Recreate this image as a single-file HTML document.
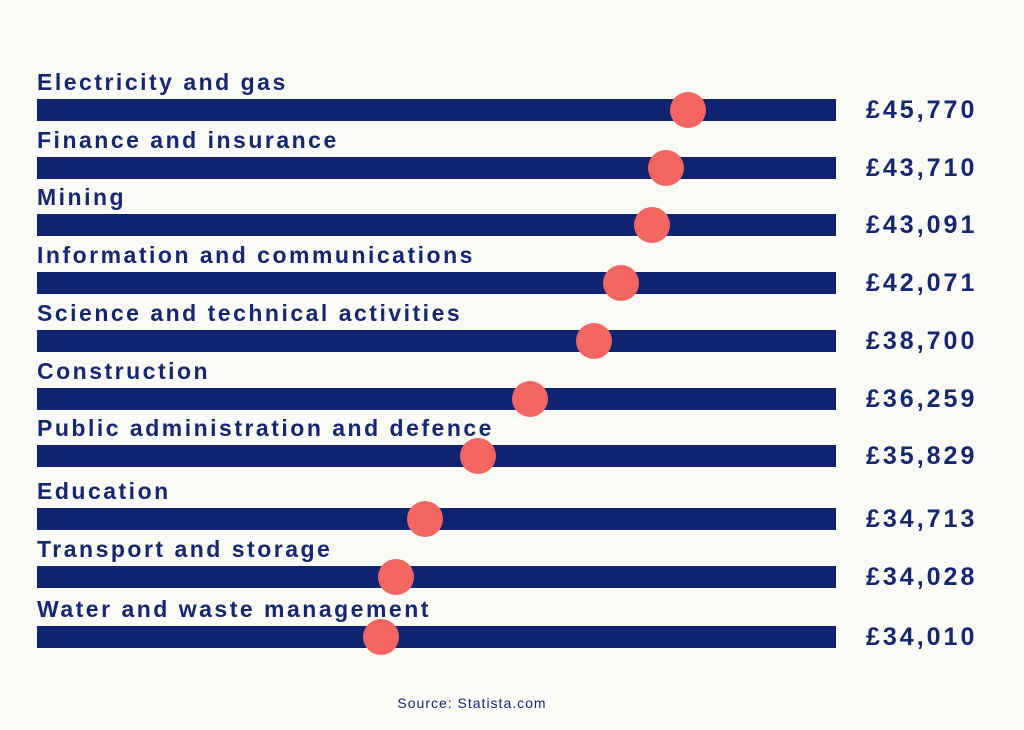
<!DOCTYPE html>
<html><head><meta charset="utf-8"><style>
body{margin:0;background:#fafaf7;}
svg{display:block}
.l{font:bold 23px "Liberation Sans",sans-serif;fill:#15276e;letter-spacing:2.5px}
.v{font:bold 25px "Liberation Sans",sans-serif;fill:#15276e;letter-spacing:3px}
</style></head><body>
<svg width="1024" height="730" xmlns="http://www.w3.org/2000/svg">
<rect width="1024" height="730" fill="#fafaf7"/>
<g id="rows"></g>
<text x="472" y="708" text-anchor="middle" style="font:14px 'Liberation Sans',sans-serif;fill:#15276e;letter-spacing:1px">Source: Statista.com</text>
</svg>
<script>
const d=[["Electricity and gas","£45,770",99,688],["Finance and insurance","£43,710",157,666],["Mining","£43,091",214,652],["Information and communications","£42,071",272,621],["Science and technical activities","£38,700",330,594],["Construction","£36,259",388,530],["Public administration and defence","£35,829",445,478],["Education","£34,713",508,425],["Transport and storage","£34,028",566,396],["Water and waste management","£34,010",626,381]];
let s="";
for(const [n,v,y,cx] of d){
s+=`<text class="l" x="37" y="${y-9}">${n}</text><rect x="37" y="${y}" width="799" height="22" fill="#0f2470"/><circle cx="${cx}" cy="${y+11}" r="18" fill="#f26560"/><text class="v" x="866" y="${y+19}">${v}</text>`;
}
document.getElementById("rows").innerHTML=s;
</script>
</body></html>
